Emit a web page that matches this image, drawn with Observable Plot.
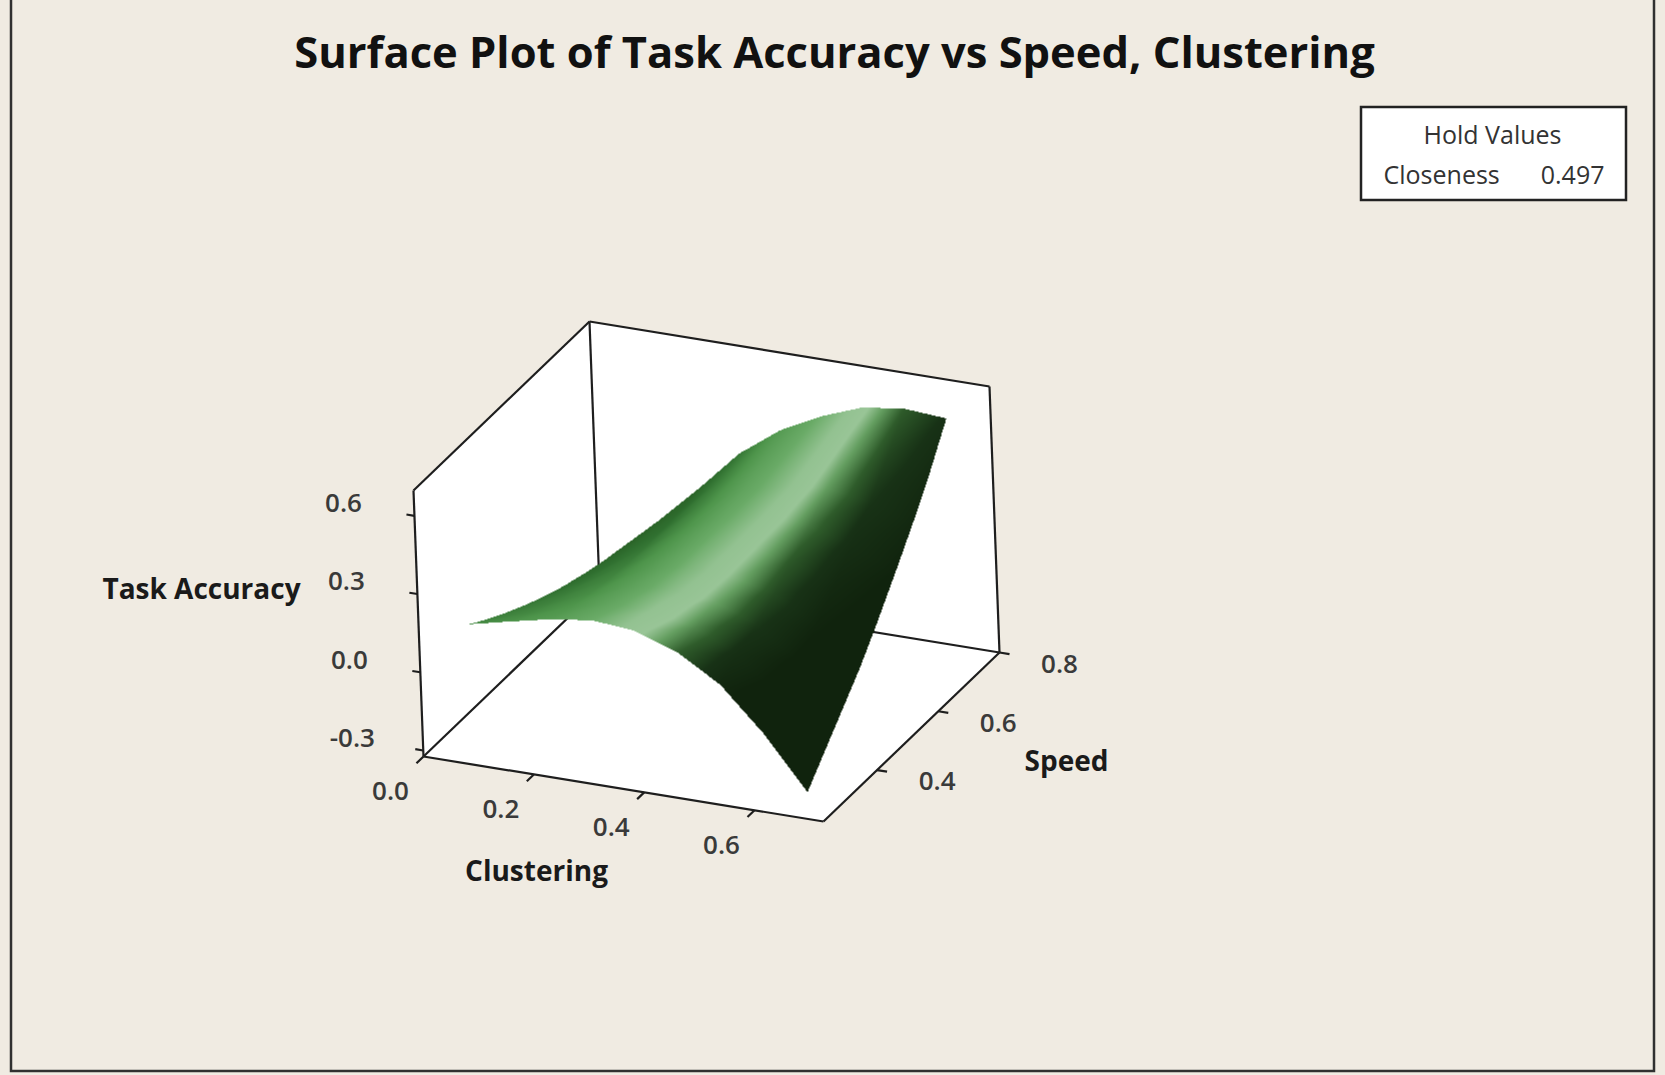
<!DOCTYPE html>
<html>
<head>
<meta charset="utf-8">
<script src="https://cdn.jsdelivr.net/npm/d3@7"></script>
<script src="https://cdn.jsdelivr.net/npm/@observablehq/plot@0.6"></script>
<style>
  html, body { margin: 0; padding: 0; background: #f0ebe2; overflow: hidden; }
</style>
</head>
<body>
<div id="chart"></div>
<script>
// ---------------- data ----------------
const clustering = [0.091, 0.167, 0.243, 0.318, 0.394, 0.470, 0.546, 0.622, 0.698];
const speed      = [0.225, 0.285, 0.346, 0.406, 0.466, 0.526, 0.587, 0.647, 0.707];
// accuracy[i][j] : Task Accuracy at clustering[i], speed[j]
const accuracy = [
  [ 0.215,  0.167,  0.124, 0.085, 0.050, 0.020, -0.005, -0.027, -0.044],
  [ 0.252,  0.217,  0.185, 0.158, 0.136, 0.119,  0.107,  0.099,  0.097],
  [ 0.287,  0.266,  0.248, 0.233, 0.225, 0.222,  0.225,  0.232,  0.247],
  [ 0.308,  0.303,  0.301, 0.302, 0.311, 0.326,  0.346,  0.371,  0.405],
  [ 0.294,  0.305,  0.318, 0.333, 0.358, 0.389,  0.425,  0.467,  0.520],
  [ 0.238,  0.265,  0.295, 0.325, 0.367, 0.415,  0.468,  0.528,  0.600],
  [ 0.140,  0.187,  0.235, 0.283, 0.345, 0.412,  0.486,  0.566,  0.660],
  [-0.022,  0.047,  0.117, 0.187, 0.271, 0.361,  0.458,  0.562,  0.681],
  [-0.220, -0.128, -0.036, 0.056, 0.163, 0.277,  0.397,  0.525,  0.670]
];
const clusteringTicks = [0.0, 0.2, 0.4, 0.6];
const speedTicks = [0.4, 0.6, 0.8];
const accuracyTicks = [-0.3, 0.0, 0.3, 0.6];
const holdTitle = "Hold Values";
const holdNames = ["Closeness"];
const holdValues = [0.497];
const titleText = "Surface Plot of Task Accuracy vs Speed, Clustering";

// ---------------- layout ----------------
const W = 1665, H = 1075;
const axisRange = { clustering: [0, 0.725], speed: [0.225, 0.80], accuracy: [-0.323, 0.697] };
const view = { origin: [423, 756], ex: [400, 65], ey: [176, -169], ez: [-10, -266] };
const font = "'Open Sans', 'Noto Sans', sans-serif";
const bg = "#f0ebe2";

const nrm = (val, [a, b]) => (val - a) / (b - a);
function P(u, v, w) {
  return [view.origin[0] + u * view.ex[0] + v * view.ey[0] + w * view.ez[0],
          view.origin[1] + u * view.ex[1] + v * view.ey[1] + w * view.ez[1]];
}
const cross = (a, b) => [a[1]*b[2]-a[2]*b[1], a[2]*b[0]-a[0]*b[2], a[0]*b[1]-a[1]*b[0]];
const unit = (a) => { const l = Math.hypot(...a); return a.map(d => d / l); };
const dot = (a, b) => a[0]*b[0] + a[1]*b[1] + a[2]*b[2];

let viewer = cross([view.ex[0], view.ey[0], view.ez[0]], [view.ex[1], view.ey[1], view.ez[1]]);
if (viewer[2] < 0) viewer = viewer.map(d => -d);
viewer = unit(viewer);

// ---------------- surface mesh ----------------
const ni = clustering.length, nj = speed.length;
const U = clustering.map(c => nrm(c, axisRange.clustering));
const V = speed.map(s => nrm(s, axisRange.speed));
const Wg = accuracy.map(row => row.map(a => nrm(a, axisRange.accuracy)));
const verts = [];
for (let i = 0; i < ni; i++) {
  verts.push([]);
  for (let j = 0; j < nj; j++) {
    const i0 = Math.max(0, i - 1), i1 = Math.min(ni - 1, i + 1);
    const j0 = Math.max(0, j - 1), j1 = Math.min(nj - 1, j + 1);
    const dwdu = (Wg[i1][j] - Wg[i0][j]) / (U[i1] - U[i0]);
    const dwdv = (Wg[i][j1] - Wg[i][j0]) / (V[j1] - V[j0]);
    const [X, Y] = P(U[i], V[j], Wg[i][j]);
    verts[i].push({X, Y, d: dot([U[i], V[j], Wg[i][j]], viewer), n: unit([-dwdu, -dwdv, 1])});
  }
}
const tris = [];
for (let i = 0; i < ni - 1; i++) for (let j = 0; j < nj - 1; j++) {
  tris.push([verts[i][j], verts[i+1][j], verts[i+1][j+1]]);
  tris.push([verts[i][j], verts[i+1][j+1], verts[i][j+1]]);
}
let bx0 = Infinity, bx1 = -Infinity, by0 = Infinity, by1 = -Infinity;
for (const row of verts) for (const p of row) {
  bx0 = Math.min(bx0, p.X); bx1 = Math.max(bx1, p.X); by0 = Math.min(by0, p.Y); by1 = Math.max(by1, p.Y);
}
bx0 = Math.floor(bx0) - 2; bx1 = Math.ceil(bx1) + 2; by0 = Math.floor(by0) - 2; by1 = Math.ceil(by1) + 2;
const bw = bx1 - bx0, bh = by1 - by0;
const depth = new Float32Array(bw * bh).fill(-Infinity);
const NX = new Float32Array(bw * bh), NY = new Float32Array(bw * bh), NZ = new Float32Array(bw * bh);
for (const [a, b, c] of tris) {
  const minx = Math.max(bx0, Math.floor(Math.min(a.X, b.X, c.X))), maxx = Math.min(bx1 - 1, Math.ceil(Math.max(a.X, b.X, c.X)));
  const miny = Math.max(by0, Math.floor(Math.min(a.Y, b.Y, c.Y))), maxy = Math.min(by1 - 1, Math.ceil(Math.max(a.Y, b.Y, c.Y)));
  const den = (b.Y - c.Y) * (a.X - c.X) + (c.X - b.X) * (a.Y - c.Y);
  if (Math.abs(den) < 1e-9) continue;
  for (let py = miny; py <= maxy; py++) for (let px = minx; px <= maxx; px++) {
    const x = px + 0.5, y = py + 0.5;
    const l1 = ((b.Y - c.Y) * (x - c.X) + (c.X - b.X) * (y - c.Y)) / den;
    const l2 = ((c.Y - a.Y) * (x - c.X) + (a.X - c.X) * (y - c.Y)) / den;
    const l3 = 1 - l1 - l2;
    if (l1 < -1e-4 || l2 < -1e-4 || l3 < -1e-4) continue;
    const dd = l1 * a.d + l2 * b.d + l3 * c.d;
    const k = (py - by0) * bw + (px - bx0);
    if (dd > depth[k]) {
      depth[k] = dd;
      NX[k] = l1 * a.n[0] + l2 * b.n[0] + l3 * c.n[0];
      NY[k] = l1 * a.n[1] + l2 * b.n[1] + l3 * c.n[1];
      NZ[k] = l1 * a.n[2] + l2 * b.n[2] + l3 * c.n[2];
    }
  }
}
// shading: position of the normal relative to the highlight band
const shadeAxis = [0.740, -0.673], shadeOffset = 0.311;
const ramp = d3.scaleLinear()
  .domain([-1.3, -1.1, -0.75, -0.38, -0.12, 0.06, 0.2, 0.4, 0.65, 1.0])
  .range(["#2a6327", "#307030", "#4e954b", "#6aab67", "#93c291", "#99c597", "#649e60", "#2f5c2b", "#183216", "#10230d"])
  .interpolate(d3.interpolateRgb).clamp(true);
const pixels = [];
for (let py = 0; py < bh; py++) for (let px = 0; px < bw; px++) {
  const k = py * bw + px;
  if (depth[k] === -Infinity) continue;
  const gx = NX[k] / NZ[k], gy = NY[k] / NZ[k];
  const s = shadeAxis[0] * gx + shadeAxis[1] * gy - shadeOffset;
  pixels.push({x: bx0 + px + 0.5, y: by0 + py + 0.5, c: ramp(s)});
}

// ---------------- box ----------------
const panels = [];
const addPanel = (name, pts) => pts.forEach(p => { const [x, y] = P(...p); panels.push({panel: name, x, y}); });
addPanel("left",  [[0,0,0],[0,1,0],[0,1,1],[0,0,1]]);
addPanel("back",  [[0,1,0],[1,1,0],[1,1,1],[0,1,1]]);
addPanel("floor", [[0,0,0],[1,0,0],[1,1,0],[0,1,0]]);
const edgeDefs = [
  [[0,0,0],[0,0,1]], [[0,0,1],[0,1,1]], [[0,1,0],[0,1,1]],
  [[0,1,1],[1,1,1]], [[1,1,0],[1,1,1]], [[0,1,0],[1,1,0]],
  [[0,0,0],[1,0,0]], [[1,0,0],[1,1,0]], [[0,0,0],[0,1,0]]
];
const edges = edgeDefs.map(([p, q]) => { const [x1, y1] = P(...p), [x2, y2] = P(...q); return {x1, y1, x2, y2}; });

// ticks and labels
const ticks = [], labels = [];
accuracyTicks.forEach(a => {
  const w = nrm(a, axisRange.accuracy);
  const [x, y] = P(0, 0, w), [x2, y2] = P(-0.02, 0, w);
  ticks.push({x1: x, y1: y, x2, y2});
  labels.push({x: x - 71, y: y - 12, text: a.toFixed(1)});
});
clusteringTicks.forEach(c => {
  const u = nrm(c, axisRange.clustering);
  const [x, y] = P(u, 0, 0), [x2, y2] = P(u, -0.04, 0);
  ticks.push({x1: x, y1: y, x2, y2});
  labels.push({x: x - 33, y: y + 35, text: c.toFixed(1)});
});
speedTicks.forEach(s => {
  const v = nrm(s, axisRange.speed);
  const [x, y] = P(1, v, 0), [x2, y2] = P(1.025, v, 0);
  ticks.push({x1: x, y1: y, x2, y2});
  labels.push({x: x + 60, y: y + 12, text: s.toFixed(1)});
});
const axisTitles = [
  {x: 201, y: 590, text: "Task Accuracy"},
  {x: 536, y: 872, text: "Clustering"},
  {x: 1066, y: 762, text: "Speed"}
];
const legendBox = {x1: 1361, x2: 1626, y1: 107, y2: 200};
const legendTitle = [{x: 1492, y: 135, text: holdTitle}];
const legendNames = holdNames.map((nm, k) => ({x: 1383, y: 175 + k * 38, text: nm}));
const legendVals = holdValues.map((vv, k) => ({x: 1604, y: 175 + k * 38, text: vv.toFixed(3)}));

const chart = Plot.plot({
  width: W, height: H, margin: 0,
  x: {type: "linear", domain: [0, W], range: [0, W], axis: null},
  y: {type: "linear", domain: [0, H], range: [0, H], axis: null},
  color: {type: "identity"},
  style: {background: bg, overflow: "hidden"},
  marks: [
    Plot.rect([0], {x1: 11, x2: 1654, y1: -10, y2: 1071, fill: bg, stroke: "#303030", strokeWidth: 2.5}),
    Plot.text([titleText], {x: 834, y: 54, text: d => d, fontSize: 43.5, fontWeight: 700, fontFamily: font, fill: "#111"}),
    Plot.rect([legendBox], {x1: "x1", x2: "x2", y1: "y1", y2: "y2", fill: "white", stroke: "#222", strokeWidth: 2.5}),
    Plot.text(legendTitle, {x: "x", y: "y", text: "text", textAnchor: "middle", fontSize: 25, fontFamily: font, fill: "#333"}),
    Plot.text(legendNames, {x: "x", y: "y", text: "text", textAnchor: "start", fontSize: 25, fontFamily: font, fill: "#333"}),
    Plot.text(legendVals, {x: "x", y: "y", text: "text", textAnchor: "end", fontSize: 25, fontFamily: font, fill: "#333"}),
    Plot.line(panels, {x: "x", y: "y", z: "panel", fill: "white", stroke: "none", curve: "linear-closed"}),
    Plot.link(edges, {x1: "x1", y1: "y1", x2: "x2", y2: "y2", stroke: "#1e1e1e", strokeWidth: 2.2}),
    Plot.link(ticks, {x1: "x1", y1: "y1", x2: "x2", y2: "y2", stroke: "#1e1e1e", strokeWidth: 2.2}),
    Plot.raster(pixels, {x: "x", y: "y", fill: "c", x1: bx0, x2: bx1, y1: by0, y2: by1, width: bw, height: bh, interpolate: "none"}),
    Plot.text(labels, {x: "x", y: "y", text: "text", fontSize: 26, fontWeight: 600, fontFamily: font, fill: "#3a3a3a"}),
    Plot.text(axisTitles, {x: "x", y: "y", text: "text", fontSize: 28, fontWeight: 700, fontFamily: font, fill: "#1a1a1a"})
  ]
});
document.getElementById("chart").appendChild(chart);
</script>
</body>
</html>
